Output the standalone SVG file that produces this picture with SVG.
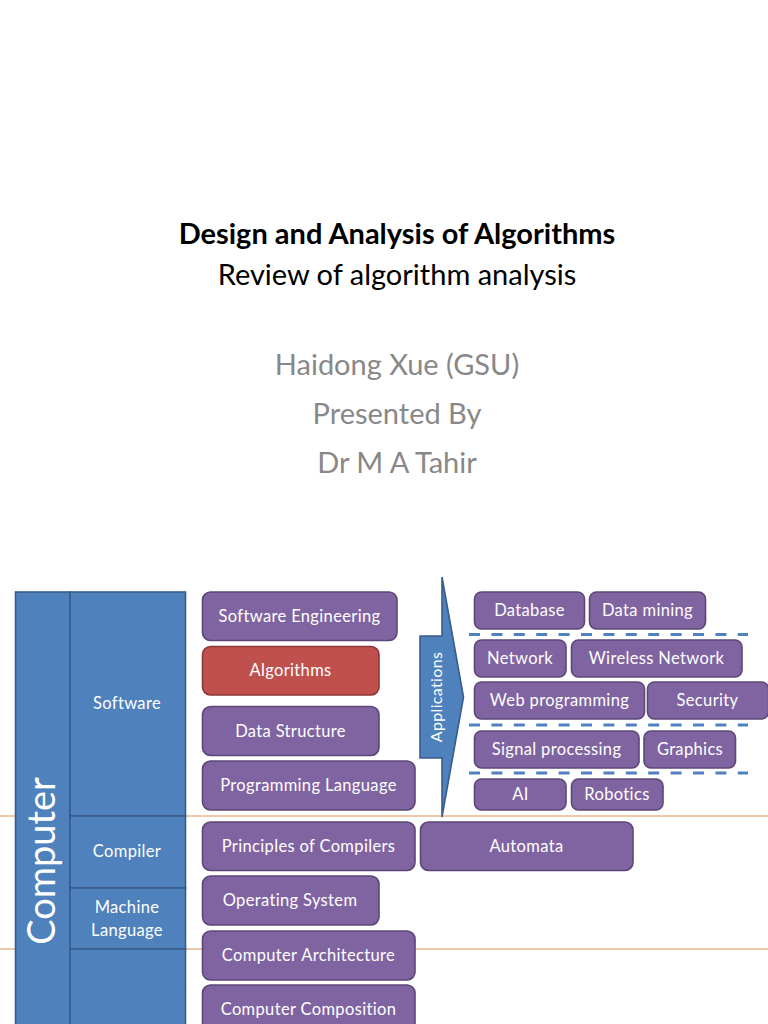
<svg xmlns="http://www.w3.org/2000/svg" width="768" height="1024" viewBox="0 0 768 1024">
<style>
text{font-family:"Lato","Liberation Sans",sans-serif;text-anchor:middle}
.w{fill:#fff;font-size:16.5px;letter-spacing:.35px}
.p{fill:#8064a2;stroke:#5c4776;stroke-width:1.6}
.r{fill:#c0504d;stroke:#8c3836;stroke-width:1.6}
.b{fill:#4f81bd;stroke:#385d8a;stroke-width:1.6}
.g{fill:#888;font-size:29px}
.o{stroke:#e9b88c;stroke-width:1.3;fill:none}
.d{stroke:#4f81bd;stroke-width:3;stroke-dasharray:11 11.4;fill:none}
</style>
<rect width="768" height="1024" fill="#fff"/>
<g id="title">
<text x="397" y="244" font-size="29" font-weight="700" fill="#000">Design and Analysis of Algorithms</text>
<text x="397" y="285" font-size="29" fill="#000">Review of algorithm analysis</text>
</g>
<g id="subtitle">
<text class="g" x="397" y="375">Haidong Xue (GSU)</text>
<text class="g" x="397" y="424">Presented By</text>
<text class="g" x="397" y="473">Dr M A Tahir</text>
</g>
<g id="connectors">
<path class="o" d="M0 816H768M0 949H768"/>
<path class="d" d="M469 634.5H748M469 725H748M469 773H748"/>
</g>
<g id="computer"><rect class="b" x="15.500" y="592" width="54.500" height="460"/><text transform="translate(55 861) rotate(-90)" fill="#fff" font-size="38">Computer</text></g>
<g id="software"><rect class="b" x="70" y="592" width="115.500" height="224"/><text class="w" x="127" y="709">Software</text></g>
<g id="compiler"><rect class="b" x="70" y="816" width="115.500" height="72"/><text class="w" x="127" y="857">Compiler</text></g>
<g id="machine"><rect class="b" x="70" y="888" width="115.500" height="61"/><text class="w" x="127" y="913">Machine</text><text class="w" x="127" y="936">Language</text></g>
<g id="hardware"><rect class="b" x="70" y="949" width="115.500" height="100"/></g>
<g id="applications"><path class="b" d="M442 577L463.500 697L442 817V758H420V636H442Z"/><text class="w" transform="translate(442 697) rotate(-90)" style="font-size:16px">Applications</text></g>
<g id="n1"><rect class="p" x="202.500" y="592" width="194.500" height="48.500" rx="8"/><text class="w" x="299.500" y="622">Software Engineering</text></g>
<g id="n2"><rect class="r" x="202.500" y="646.500" width="176.500" height="48.500" rx="8"/><text class="w" x="290.500" y="676">Algorithms</text></g>
<g id="n3"><rect class="p" x="202.500" y="706.500" width="176.500" height="49" rx="8"/><text class="w" x="290.500" y="736.500">Data Structure</text></g>
<g id="n4"><rect class="p" x="202.500" y="761" width="212.500" height="49" rx="8"/><text class="w" x="308.500" y="791">Programming Language</text></g>
<g id="n5"><rect class="p" x="202.500" y="822" width="212.500" height="48.500" rx="8"/><text class="w" x="308.500" y="851.500">Principles of Compilers</text></g>
<g id="n6"><rect class="p" x="202.500" y="876" width="176.500" height="49" rx="8"/><text class="w" x="290" y="906">Operating System</text></g>
<g id="n7"><rect class="p" x="202.500" y="931" width="212.500" height="49" rx="8"/><text class="w" x="308.500" y="960.500">Computer Architecture</text></g>
<g id="n8"><rect class="p" x="202.500" y="985" width="212.500" height="50" rx="8"/><text class="w" x="308.500" y="1015">Computer Composition</text></g>
<g id="n9"><rect class="p" x="420.500" y="822" width="212.500" height="48.500" rx="8"/><text class="w" x="526.500" y="851.500">Automata</text></g>
<g id="a1"><rect class="p" x="474.500" y="592" width="110" height="37" rx="7"/><text class="w" x="529.500" y="616">Database</text></g>
<g id="a2"><rect class="p" x="589.500" y="592" width="116" height="37" rx="7"/><text class="w" x="647.500" y="616">Data mining</text></g>
<g id="a3"><rect class="p" x="474.500" y="640" width="91.500" height="37" rx="7"/><text class="w" x="520" y="663.500">Network</text></g>
<g id="a4"><rect class="p" x="571.500" y="640" width="170.500" height="37" rx="7"/><text class="w" x="656.500" y="663.500">Wireless Network</text></g>
<g id="a5"><rect class="p" x="474.500" y="682" width="170" height="37" rx="7"/><text class="w" x="559.500" y="706">Web programming</text></g>
<g id="a6"><rect class="p" x="647.500" y="682" width="121" height="37" rx="7"/><text class="w" x="707.500" y="706">Security</text></g>
<g id="a7"><rect class="p" x="474.500" y="731" width="164.500" height="37" rx="7"/><text class="w" x="556.500" y="754.500">Signal processing</text></g>
<g id="a8"><rect class="p" x="644" y="731" width="91.500" height="37" rx="7"/><text class="w" x="690" y="754.500">Graphics</text></g>
<g id="a9"><rect class="p" x="474.500" y="779" width="91.500" height="31" rx="7"/><text class="w" x="520.500" y="800">AI</text></g>
<g id="a10"><rect class="p" x="571.500" y="779" width="91.500" height="31" rx="7"/><text class="w" x="617" y="800">Robotics</text></g>
</svg>
